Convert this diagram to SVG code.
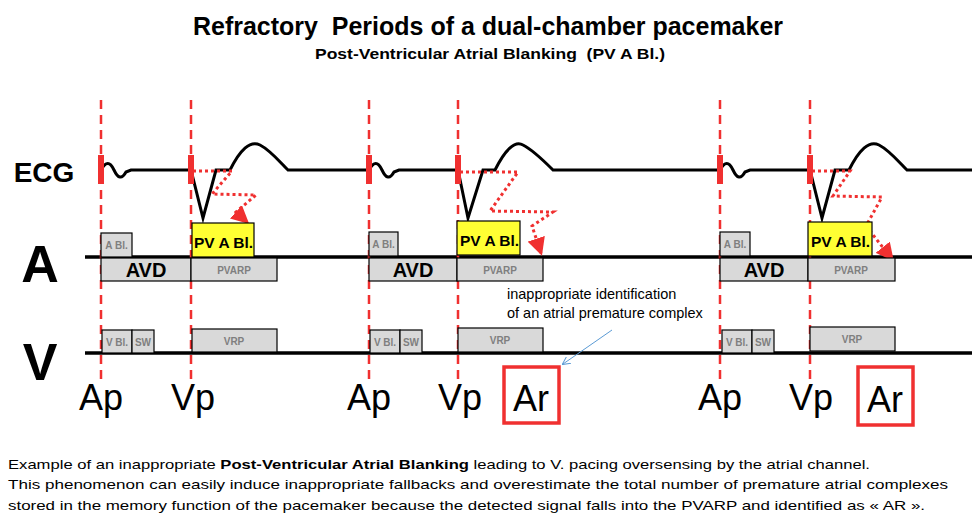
<svg xmlns="http://www.w3.org/2000/svg" width="972" height="530" viewBox="0 0 972 530">
<defs>
<style>
text{font-family:"Liberation Sans",Arial,sans-serif;}
.dash{stroke:#f03030;stroke-width:2.5;stroke-dasharray:9,6;fill:none}
.mark{stroke:#f03030;stroke-width:6;}
.ecg{stroke:#000;stroke-width:3;fill:none}
.dot{stroke:#f03030;stroke-width:3;stroke-dasharray:3,3;fill:none}
.ch{stroke:#000;stroke-width:3.5}
.box{fill:#d9d9d9;stroke:#000;stroke-width:1.2}
.yb{fill:#ffff33;stroke:#000;stroke-width:1.2}
.sm{font-size:10px;font-weight:bold;fill:#7f7f7f;text-anchor:middle}
.pv{font-size:15.5px;font-weight:bold;fill:#000}
.avd{font-size:20px;font-weight:bold;fill:#000;text-anchor:middle}
.big{font-size:36px;fill:#000;text-anchor:middle}
.ar{fill:none;stroke:#f03030;stroke-width:3.5}
</style>
<marker id="ra" markerWidth="6" markerHeight="6" refX="5" refY="3" orient="auto" markerUnits="strokeWidth"><path d="M0,0L6,3L0,6z" fill="#f03030"/></marker>
<marker id="ba" markerWidth="8" markerHeight="8" refX="7" refY="4" orient="auto" markerUnits="strokeWidth"><path d="M0,0L8,4L0,8" fill="none" stroke="#5b9bd5"/></marker>
</defs>
<rect width="972" height="530" fill="#fff"/>
<g id="title">
<text x="193" y="35" font-size="25" font-weight="bold" textLength="590" lengthAdjust="spacingAndGlyphs" xml:space="preserve">Refractory  Periods of a dual-chamber pacemaker</text>
<text x="315" y="59" font-size="15" font-weight="bold" textLength="350" lengthAdjust="spacingAndGlyphs" xml:space="preserve">Post-Ventricular Atrial Blanking  (PV A Bl.)</text>
</g>
<g id="labels">
<text x="44" y="182" font-size="28" font-weight="bold" text-anchor="middle">ECG</text>
<text x="40" y="282" font-size="52" font-weight="bold" text-anchor="middle">A</text>
<text x="40" y="380" font-size="52" font-weight="bold" text-anchor="middle">V</text>
</g>
<g id="channels">
<line class="ch" x1="85" y1="257" x2="972" y2="257"/>
<line class="ch" x1="85" y1="353" x2="972" y2="353"/>
</g>
<g id="ecg">
<path class="ecg" d="M101,170 Q108,157 114,170 Q120,183 126,172 L131,170 L191,170 L203,218 L216,170 L230,170 C240,150 250,140 260,145 C270,150 280,162 288,170 L369,170 Q376,157 382,170 Q388,183 394,172 L399,170 L458,170 L468,218 L483,170 L495,170 C505,150 515,140 523,145 C533,150 545,162 553,170 L720,170 Q727,157 733,170 Q739,183 745,172 L750,170 L810,170 L822,218 L835,170 L849,170 C859,150 869,140 879,145 C889,150 899,162 907,170 L972,170"/>
</g>
<g id="markers">
<line class="mark" x1="101" y1="155" x2="101" y2="184"/>
<line class="mark" x1="191" y1="155" x2="191" y2="184"/>
<line class="mark" x1="369" y1="155" x2="369" y2="184"/>
<line class="mark" x1="458" y1="155" x2="458" y2="184"/>
<line class="mark" x1="720" y1="155" x2="720" y2="184"/>
<line class="mark" x1="810" y1="155" x2="810" y2="184"/>
</g>
<g id="dashes">
<line class="dash" x1="101" y1="100" x2="101" y2="385"/>
<line class="dash" x1="191" y1="100" x2="191" y2="385"/>
<line class="dash" x1="369" y1="100" x2="369" y2="385"/>
<line class="dash" x1="458" y1="100" x2="458" y2="385"/>
<line class="dash" x1="720" y1="100" x2="720" y2="385"/>
<line class="dash" x1="810" y1="100" x2="810" y2="385"/>
</g>
<g id="connectors">
<path class="dot" marker-end="url(#ra)" d="M193,171 L232,171 L212,194 L256,195 L236,212 L247,222"/>
<path class="dot" marker-end="url(#ra)" d="M460,172 L518,172 L490,211 L553,212 L532,226 L541,253"/>
<path class="dot" marker-end="url(#ra)" d="M812,171 L850,171 L833,196 L882,197 L866,226 L892,259"/>
<line x1="612" y1="330" x2="563" y2="364" stroke="#5b9bd5" stroke-width="1" marker-end="url(#ba)"/>
</g>
<g id="g1">
<rect class="box" x="101" y="233" width="31" height="24"/><text class="sm" x="116.5" y="249">A Bl.</text>
<rect class="yb" x="192" y="223" width="62" height="34"/><text class="pv" x="194" y="248">PV A Bl.</text>
<rect class="box" x="101" y="258" width="90" height="23"/><text class="avd" x="146" y="277">AVD</text>
<rect class="box" x="191" y="258" width="86" height="23"/><text class="sm" x="234" y="274" font-size="11">PVARP</text>
<rect class="box" x="102" y="330" width="30" height="23"/><text class="sm" x="117" y="346">V Bl.</text>
<rect class="box" x="132" y="330" width="22" height="23"/><text class="sm" x="143" y="346" font-size="9">SW</text>
<rect class="box" x="192" y="329" width="85" height="23"/><text class="sm" x="234" y="345" font-size="9" font-weight="normal">VRP</text>
<text class="big" x="101" y="410">Ap</text><text class="big" x="193" y="410">Vp</text>
</g>
<g id="g2">
<rect class="box" x="369" y="232" width="29" height="24"/><text class="sm" x="383.5" y="248">A Bl.</text>
<rect class="yb" x="457" y="221" width="63" height="34"/><text class="pv" x="460" y="246">PV A Bl.</text>
<rect class="box" x="369" y="258" width="88" height="23"/><text class="avd" x="413" y="277">AVD</text>
<rect class="box" x="457" y="258" width="86" height="23"/><text class="sm" x="500" y="274" font-size="11">PVARP</text>
<rect class="box" x="370" y="330" width="30" height="23"/><text class="sm" x="385" y="346">V Bl.</text>
<rect class="box" x="400" y="330" width="22" height="23"/><text class="sm" x="411" y="346" font-size="9">SW</text>
<rect class="box" x="458" y="328" width="85" height="24"/><text class="sm" x="500" y="344" font-size="9" font-weight="normal">VRP</text>
<text class="big" x="369" y="410">Ap</text><text class="big" x="460" y="410">Vp</text>
<rect class="ar" x="504" y="367" width="55" height="56"/><text class="big" x="531" y="411" font-size="38">Ar</text>
<text x="507" y="299" font-size="14.5">inappropriate identification</text>
<text x="507" y="318" font-size="14.5">of an atrial premature complex</text>
</g>
<g id="g3">
<rect class="box" x="720" y="232" width="30" height="24"/><text class="sm" x="735" y="248">A Bl.</text>
<rect class="yb" x="808" y="222" width="64" height="34"/><text class="pv" x="811" y="247">PV A Bl.</text>
<rect class="box" x="720" y="258" width="88" height="23"/><text class="avd" x="764" y="277">AVD</text>
<rect class="box" x="808" y="258" width="87" height="23"/><text class="sm" x="851" y="274" font-size="11">PVARP</text>
<rect class="box" x="722" y="330" width="30" height="23"/><text class="sm" x="737" y="346">V Bl.</text>
<rect class="box" x="752" y="330" width="22" height="23"/><text class="sm" x="763" y="346" font-size="9">SW</text>
<rect class="box" x="810" y="327" width="85" height="24"/><text class="sm" x="852" y="343" font-size="9" font-weight="normal">VRP</text>
<text class="big" x="720" y="410">Ap</text><text class="big" x="811" y="410">Vp</text>
<rect class="ar" x="858" y="367" width="55" height="58"/><text class="big" x="885" y="412" font-size="38">Ar</text>
</g>
<g id="caption" font-size="13.5">
<text x="8" y="469" textLength="862" lengthAdjust="spacingAndGlyphs">Example of an inappropriate <tspan font-weight="bold">Post-Ventricular Atrial Blanking</tspan> leading to V. pacing oversensing by the atrial channel.</text>
<text x="8" y="489" textLength="940" lengthAdjust="spacingAndGlyphs">This phenomenon can easily induce inappropriate fallbacks and overestimate the total number of premature atrial complexes</text>
<text x="8" y="510" textLength="917" lengthAdjust="spacingAndGlyphs">stored in the memory function of the pacemaker because the detected signal falls into the PVARP and identified as « AR ».</text>
</g>
</svg>
